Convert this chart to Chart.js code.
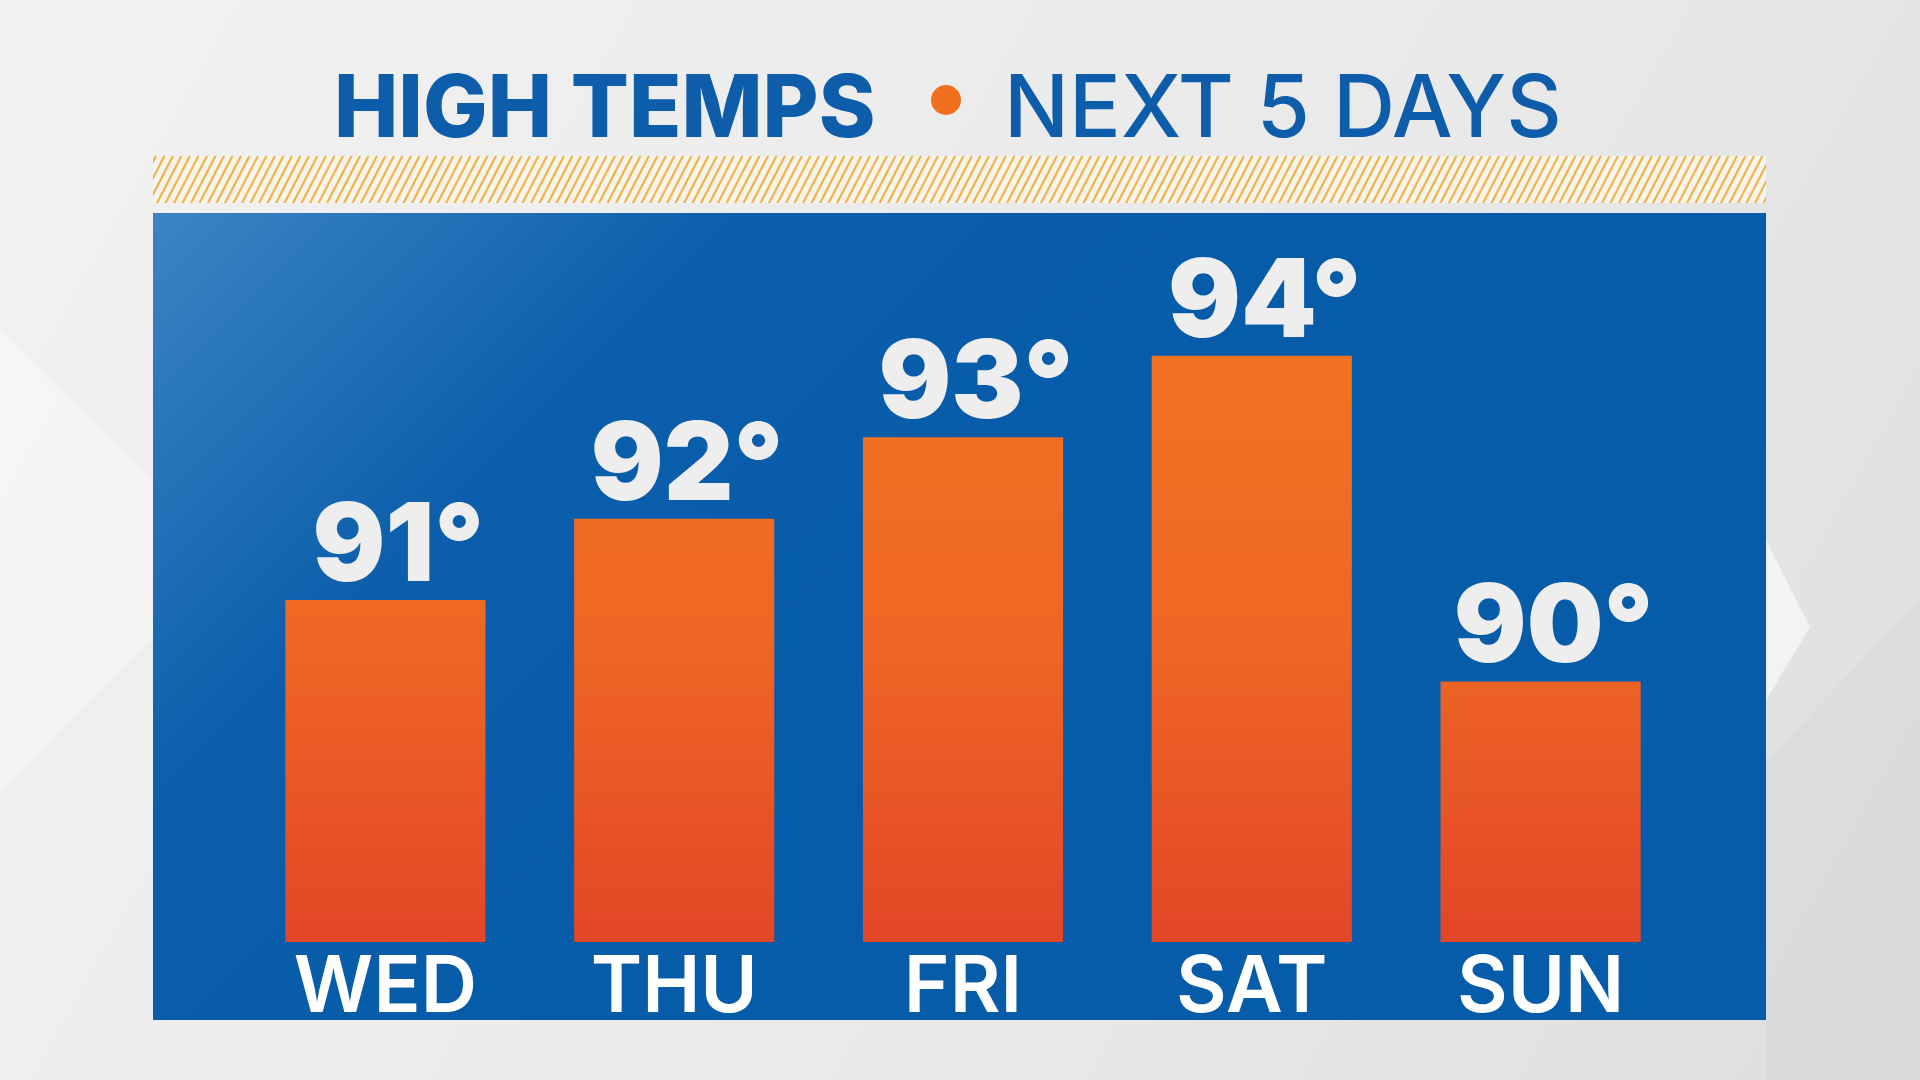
<!DOCTYPE html>
<html>
<head>
<meta charset="utf-8">
<script src="https://cdn.jsdelivr.net/npm/chart.js@4.4.1/dist/chart.umd.min.js"></script>
<style>
  html, body { margin: 0; padding: 0; background: #e8e8e8; overflow: hidden; }
  #wrap { width: 1920px; height: 1080px; position: relative; }
</style>
</head>
<body>
<div id="wrap"><canvas id="myChart"></canvas></div>
<script>
"use strict";

//Dagar och temperaturer
const days = ['WED', 'THU', 'FRI', 'SAT', 'SUN'];
const highs = [91, 92, 93, 94, 90];
const yMin = 86.8;
const yMax = 96;

const FONT = 'Inter, Lato, "Open Sans", sans-serif';

//Bakgrund, rubrik, randig list och blå panel
const backdrop = {
  id: 'backdrop',
  beforeDraw(chart) {
    const c = chart.ctx;
    const W = chart.width, H = chart.height;
    c.save();

    let g = c.createLinearGradient(0, 0, W, H);
    g.addColorStop(0, '#f2f2f2');
    g.addColorStop(0.6, '#e9e9e9');
    g.addColorStop(1, '#dedede');
    c.fillStyle = g;
    c.fillRect(0, 0, W, H);

    //svaga romber i bakgrunden
    c.fillStyle = 'rgba(255,255,255,0.35)';
    c.beginPath();
    c.moveTo(0, 330); c.lineTo(230, 560); c.lineTo(0, 790); c.closePath(); c.fill();
    c.fillStyle = 'rgba(255,255,255,0.6)';
    c.beginPath();
    c.moveTo(1766, 540); c.lineTo(1810, 627); c.lineTo(1766, 700); c.closePath(); c.fill();
    c.fillStyle = 'rgba(0,0,0,0.02)';
    c.beginPath();
    c.moveTo(1766, 760); c.lineTo(1920, 600); c.lineTo(1920, 1080); c.lineTo(1766, 1080); c.closePath(); c.fill();

    //randig list
    c.save();
    c.beginPath();
    c.rect(153, 156, 1613, 47);
    c.clip();
    c.fillStyle = '#f7f4ee';
    c.fillRect(153, 156, 1613, 47);
    c.strokeStyle = '#efb54a';
    c.lineWidth = 2.2;
    for (let x = 130; x < 1800; x += 8.5) {
      c.beginPath();
      c.moveTo(x, 206);
      c.lineTo(x + 28, 152);
      c.stroke();
    }
    c.restore();

    //blå panel
    g = c.createLinearGradient(153, 213, 700, 760);
    g.addColorStop(0, '#3c84c4');
    g.addColorStop(0.55, '#0b5eab');
    g.addColorStop(1, '#075ca9');
    c.fillStyle = g;
    c.fillRect(153, 213, 1613, 807);

    //rubrik
    c.textBaseline = 'alphabetic';
    c.fillStyle = '#0e5daa';
    c.font = '800 86px ' + FONT;
    c.textAlign = 'left';
    c.fillText('HIGH TEMPS', 334, 137);
    c.font = '500 86px ' + FONT;
    c.fillText('NEXT 5 DAYS', 1004, 137);
    c.fillStyle = '#f07020';
    c.beginPath();
    c.arc(946, 100, 15, 0, Math.PI * 2);
    c.fill();

    c.restore();
  }
};

//Temperaturer ovanför staplarna
const valueLabels = {
  id: 'valueLabels',
  afterDatasetsDraw(chart) {
    const c = chart.ctx;
    const meta = chart.getDatasetMeta(0);
    c.save();
    c.fillStyle = '#eeeeee';
    c.font = '900 108px ' + FONT;
    c.textAlign = 'center';
    c.textBaseline = 'alphabetic';
    meta.data.forEach((bar, i) => {
      c.fillText(highs[i] + '°', bar.x + 13, bar.y - 19);
    });
    c.restore();
  }
};

function barGradient(context) {
  const area = context.chart.chartArea;
  if (!area) return '#f07020';
  const g = context.chart.ctx.createLinearGradient(0, area.top, 0, area.bottom);
  g.addColorStop(0, '#f47a21');
  g.addColorStop(0.6, '#ee6624');
  g.addColorStop(1, '#e34627');
  return g;
}

const ctx = document.getElementById('myChart');

new Chart(ctx, {
  type: 'bar',
  data: {
    labels: days,
    datasets: [{
      data: highs,
      backgroundColor: barGradient,
      borderWidth: 0,
      barPercentage: 0.693,
      categoryPercentage: 1
    }]
  },
  options: {
    responsive: true,
    maintainAspectRatio: false,
    animation: false,
    events: [],
    layout: { padding: { left: 241, right: 235, top: 193, bottom: 0 } },
    plugins: {
      legend: { display: false },
      tooltip: { enabled: false }
    },
    scales: {
      x: {
        grid: { display: false },
        border: { display: false },
        ticks: {
          color: '#ffffff',
          padding: -8,
          font: { family: FONT, size: 78, weight: '600' }
        },
        afterFit: s => { s.height = 138; }
      },
      y: {
        display: false,
        min: yMin,
        max: yMax
      }
    }
  },
  plugins: [backdrop, valueLabels]
});
</script>
</body>
</html>
